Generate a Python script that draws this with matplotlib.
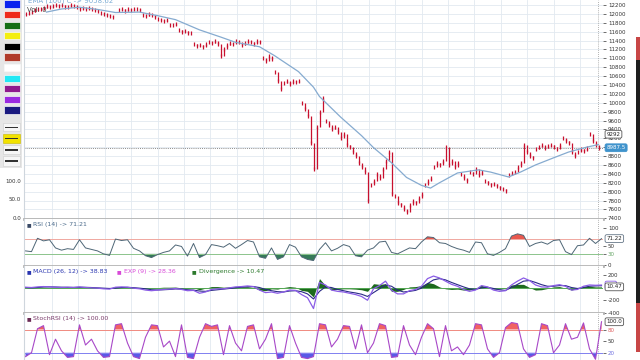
import matplotlib
matplotlib.use("Agg")
import matplotlib.pyplot as plt
import numpy as np
from matplotlib.patches import Rectangle

# price closes, one per bar (None = no bar)
closes = [12000, 12020, 12050, 12080, 12100, 12120, 12140, 12170, 12160,
          12180, 12200, 12170, 12190, 12150, 12160, 12200, 12180, 12150,
          12120, 12140, 12100, 12130, 12110, 12080, 12060,
          12020, 12000, 11980, 11960, 11940,
          None,
          12080, 12100, 12070, 12110, 12090, 12100, 12120, 12080,
          11980, 11960, 12000, 11970, 11940,
          11880, 11860, 11840, 11870,
          11760, 11740, 11780,
          11640, 11600, 11620, 11560, 11580,
          11320, 11280, 11300, 11260, 11320,
          11360, 11340, 11380, 11330,
          11050, 11200,
          11300, 11350, 11320, 11380, 11360, 11300, 11340, 11400, 11370, 11330, 11390, 11360,
          11000, 10950, 11050, 10980,
          10700, 10500, 10320,
          10450, 10480, 10420, 10500, 10460, 10480,
          10000, 9850, 9700,
          9100, 8500, 9450,
          9800, 10100,
          9600, 9500, 9400, 9450, 9350,
          9200, 9300, 9050,
          9000, 8900, 8800, 8650, 8550, 8450,
          7800,
          8150, 8250, 8400, 8300, 8500,
          8700, 8900,
          7950,
          7900, 7750, 7700, 7600, 7550,
          7700, 7800, 7750, 7850,
          7950,
          8150, 8250, 8300,
          8550, 8650, 8600, 8700,
          9000,
          8600, 8700, 8550, 8650,
          8400, 8300, 8250,
          8450, 8400, 8500, 8380, 8450,
          8250, 8200, 8150, 8180, 8120,
          8080, 8050, 8020,
          8380, 8420, 8450,
          8550, 8650,
          9050,
          8900, 8800, 8750,
          8950, 9000, 9050, 8980, 9020, 9060, 9000, 8950, 9050,
          9200, 9150, 9100,
          8900, 8800,
          8900, 8950, 8920, 8980,
          9300, 9150, 9050,
          8987.5]

# bars where a new session starts (not joined to previous close)
session_starts = [25, 31, 39, 44, 48, 51, 56, 61, 79, 83, 86, 92, 100, 115,
                  123, 133, 136, 145, 148, 153, 161, 170, 179, 184, 188]

# EMA(100) read at some bars
ema_idx = [7, 12, 18, 24, 30, 38, 44, 50, 58, 65, 70, 78, 83, 91, 96, 98, 105,
           112, 116, 122, 127, 132, 135, 138, 144, 151, 155, 161, 165, 170,
           176, 181, 187, 191]
ema_vals = [12040, 12110, 12150, 12100, 12030, 12040, 11960, 11870, 11640,
            11480, 11360, 11260, 11060, 10700, 10350, 10140, 9680, 9260, 8990,
            8650, 8320, 8140, 8080, 8200, 8420, 8490, 8440, 8330, 8440, 8600,
            8760, 8890, 9000, 9058]

# indicators, one value every second bar
rsi_vals = [38, 36, 72, 65, 68, 46, 40, 44, 42, 68, 46, 42, 38, 30, 26, 70,
            66, 68, 45, 38, 25, 20, 28, 34, 38, 54, 50, 24, 58, 20, 28, 55,
            52, 48, 58, 45, 55, 66, 62, 22, 18, 46, 15, 22, 55, 48, 22, 15,
            12, 42, 60, 38, 45, 55, 50, 25, 22, 40, 46, 62, 64, 34, 30, 38,
            46, 44, 62, 76, 74, 60, 58, 50, 44, 40, 34, 62, 60, 30, 26, 34,
            44, 78, 84, 80, 50, 58, 62, 56, 66, 68, 36, 28, 52, 54, 72, 58, 71]

macd_vals = [5, 0, 10, 15, 10, 5, 0, 5, 0, 10, 0, -5, -10, -20, -25, 5, 10, 5,
             -10, -20, -40, -50, -40, -30, -25, -15, -30, -50, -45, -90, -70,
             -30, -20, -20, -5, 10, 15, 25, 15, -40, -80, -70, -90, -70, -40,
             -45, -110, -160, -330, 80, 40, -40, -60, -70, -90, -110, -140,
             -200, -20, 30, 100, -40, -100, -100, -50, -30, 20, 140, 180, 150,
             100, 50, 20, -30, -60, -40, 30, 10, -40, -60, -50, 40, 100, 150,
             110, 40, 10, 5, 30, 45, 20, -40, -30, 20, 40, 35, 38.83]

exp_vals = [0, -5, 0, 10, 10, 8, 5, 3, 2, 4, 3, 0, -5, -10, -15, -10, 0, 3,
            -2, -10, -20, -35, -38, -35, -30, -22, -25, -35, -40, -55, -60,
            -45, -35, -25, -15, -5, 5, 12, 15, 0, -30, -50, -65, -70, -55,
            -50, -65, -100, -180, -60, 10, 0, -30, -50, -70, -85, -105, -140,
            -80, -20, 40, 20, -40, -70, -60, -45, -10, 60, 120, 140, 120, 80,
            45, 10, -20, -30, -5, 5, -15, -35, -45, 0, 50, 100, 110, 80, 45,
            20, 20, 30, 30, 0, -15, 0, 20, 25, 28.36]

stoch_vals = [10, 20, 82, 90, 15, 55, 25, 8, 10, 92, 40, 55, 25, 8, 10, 92,
              95, 45, 10, 5, 60, 92, 90, 35, 50, 10, 92, 8, 5, 60, 95, 88, 92,
              15, 90, 45, 25, 88, 92, 30, 55, 95, 5, 8, 90, 45, 8, 5, 10, 95,
              92, 35, 55, 90, 88, 30, 92, 20, 45, 95, 90, 8, 10, 90, 40, 15,
              60, 95, 82, 10, 90, 25, 35, 15, 40, 95, 92, 30, 8, 20, 85, 98,
              95, 30, 8, 15, 95, 90, 20, 40, 95, 55, 60, 97, 30, 3, 100]

price_ticks = list(range(7400, 12201, 200))

W_PX, H_PX = 640, 360
fig = plt.figure(figsize=(6.4, 3.6), dpi=100)
fig.patch.set_facecolor("white")

def panel(top, bot):
    ax = fig.add_axes([24 / W_PX, 1 - bot / H_PX, 579 / W_PX, (bot - top) / H_PX])
    ax.set_xlim(-0.5, 192.5)
    ax.set_xticks([])
    for s in ["top", "right"]:
        ax.spines[s].set_visible(False)
    ax.spines["left"].set_color("#cfd6dd")
    ax.spines["left"].set_linewidth(0.8)
    ax.spines["bottom"].set_color("#b4b4b4")
    ax.spines["bottom"].set_linewidth(2)
    for gx in np.arange(8.8, 192, 8.8):
        ax.axvline(gx, color="#e2e9f0", lw=0.6, zorder=0)
    ax.axvline(190.8, color="#9a9a9a", lw=0.6, ls=(0, (1, 1.5)), zorder=1)
    return ax

def right_ticks(ax):
    ax.yaxis.tick_right()
    ax.tick_params(axis="y", labelsize=4, length=2, width=0.5, pad=1.5,
                   colors="#333333")

def box(ax, val, text, fc="white", ec="#555555", tc="#222222"):
    ax.text(1.006, val, text, transform=ax.get_yaxis_transform(), fontsize=4,
            color=tc, va="center", ha="left", clip_on=False, zorder=10,
            bbox=dict(boxstyle="round,pad=0.25,rounding_size=0.3", fc=fc,
                      ec=ec, lw=0.6))

# ---- price panel
ax_p = panel(0, 219)

# volume scale on the left (volume is zero)
ax_v = ax_p.twinx()
ax_v.set_ylim(-2.7, 589)
ax_v.yaxis.tick_left()
ax_v.set_yticks([0, 50, 100])
ax_v.set_yticklabels(["0.0", "50.0", "100.0"])
ax_v.tick_params(axis="y", labelsize=4, length=0, pad=2, colors="#333333")
for s in ax_v.spines.values():
    s.set_visible(False)

ax_p.set_ylim(7384, 12312)
for t in price_ticks:
    ax_p.axhline(t, color="#e2e9f0", lw=0.6, zorder=0)
ax_p.set_yticks(price_ticks)
ax_p.set_yticklabels([str(t) for t in price_ticks])
right_ticks(ax_p)
ax_p.yaxis.set_label_position("right")

bar_col = "#c8102e"
prev = None
for i, c in enumerate(closes):
    if c is None:
        prev = None
        continue
    if prev is not None and i not in session_starts:
        ax_p.vlines(i, min(prev, c), max(prev, c), color=bar_col, lw=0.9, zorder=3)
    prev = c
xs = [i for i, c in enumerate(closes) if c is not None]
ys = [c for c in closes if c is not None]
ax_p.plot(xs, ys, ls="none", marker="|", ms=2.5, mew=0.9, color=bar_col, zorder=3)
ax_p.plot(ema_idx, ema_vals, color="#86abd0", lw=0.9, zorder=4)
ax_p.axhline(closes[-1], color="#8a8a8a", lw=0.7, ls=(0, (1, 1.2)), zorder=2)

box(ax_p, 9292, "9292")
box(ax_p, closes[-1], "8987.5", fc="#3f93cc", ec="#3f93cc", tc="white")

ax_p.text(0.007, 0.997, "EMA (100) C -> 9058.62", transform=ax_p.transAxes,
          fontsize=5, color="#7eaed6", va="center", ha="left")
ax_p.text(0.006, 0.955, "Vol: 0", transform=ax_p.transAxes, fontsize=5,
          color="#444444", va="center", ha="left")

ix = np.arange(len(rsi_vals)) * 2

# ---- RSI panel
ax_r = panel(219, 266)
right_ticks(ax_r)
ax_r.set_ylim(-2.7, 124)
rsi = np.array(rsi_vals, dtype=float)
ax_r.axhline(70, color="#f0a8a0", lw=0.7)
ax_r.axhline(30, color="#8cc48c", lw=0.7)
ax_r.fill_between(ix, rsi, 70, where=rsi > 70, interpolate=True, color="#e8584e", lw=0)
ax_r.fill_between(ix, rsi, 30, where=rsi < 30, interpolate=True, color="#357a58", lw=0)
ax_r.plot(ix, rsi, color="#4e6676", lw=0.7)
ax_r.set_yticks([0, 30, 50, 100])
ax_r.set_yticklabels(["0", "30", "50", "100"])
ax_r.get_yticklabels()[1].set_color("#6aa86a")
box(ax_r, 71.22, "71.22", ec="#667788")
ax_r.text(0.004, 0.88, "\u25a0", transform=ax_r.transAxes, fontsize=3.5, color="#3a4a66", va="center")
ax_r.text(0.016, 0.88, "RSI (14) -> 71.21", transform=ax_r.transAxes, fontsize=4.5, color="#4a6a8a", va="center")

# ---- MACD panel
ax_m = panel(266, 313)
right_ticks(ax_m)
ax_m.set_ylim(-385, 338)
macd = np.array(macd_vals, dtype=float)
sig = np.array(exp_vals, dtype=float)
ax_m.fill_between(ix, 0, macd - sig, color="#1d6a1d", lw=0)
ax_m.axhline(0, color="#55a855", lw=0.7)
ax_m.plot(ix, sig, color="#2a2a86", lw=0.8)
ax_m.plot(ix, macd, color="#8a5ce6", lw=0.9)
ax_m.set_yticks([-400, -200, 200])
ax_m.set_yticklabels(["-400", "-200", "200"])
box(ax_m, 38.83, "     ", ec="#8a5ce6")
box(ax_m, 10.47, "10.47")
legend_m = [("MACD (26, 12) -> 38.83", "#2a36b0", 0.004),
            ("EXP (9) -> 28.36", "#d84ad8", 0.16),
            ("Divergence -> 10.47", "#2d7a2d", 0.29)]
for txt, col, x0 in legend_m:
    ax_m.text(x0, 0.88, "\u25a0", transform=ax_m.transAxes, fontsize=3.5, color=col, va="center")
    ax_m.text(x0 + 0.012, 0.88, txt, transform=ax_m.transAxes, fontsize=4.5, color=col, va="center")

# ---- StochRSI panel
ax_s = panel(313, 360)
right_ticks(ax_s)
ax_s.spines["bottom"].set_visible(False)
ax_s.set_ylim(1.3, 122.6)
st = np.array(stoch_vals, dtype=float)
ax_s.axhline(80, color="#f08a80", lw=0.7)
ax_s.axhline(20, color="#8080f0", lw=0.7)
ax_s.fill_between(ix, st, 80, where=st > 80, interpolate=True, color="#f06262", lw=0)
ax_s.fill_between(ix, st, 20, where=st < 20, interpolate=True, color="#5a5ae6", lw=0)
ax_s.plot(ix, st, color="#a848c8", lw=0.8)
ax_s.set_yticks([20, 50, 80])
ax_s.set_yticklabels(["20", "50", "80"])
ax_s.get_yticklabels()[0].set_color("#7070e0")
ax_s.get_yticklabels()[2].set_color("#e06060")
box(ax_s, 100, "100.0")
ax_s.text(0.004, 0.88, "\u25a0", transform=ax_s.transAxes, fontsize=3.5, color="#6a2a55", va="center")
ax_s.text(0.016, 0.88, "StochRSI (14) -> 100.00", transform=ax_s.transAxes, fontsize=4.5, color="#7a3a6a", va="center")

# ---- toolbar on the left and scroll strip on the right
def px_rect(x0, y0, x1, y1, fc, ec="none", lw=0):
    fig.patches.append(Rectangle((x0 / W_PX, 1 - y1 / H_PX), (x1 - x0) / W_PX,
                                 (y1 - y0) / H_PX, transform=fig.transFigure,
                                 fc=fc, ec=ec, lw=lw, zorder=5))

px_rect(0, 0, 22, 168, "#e6e6e6")
swatches = ["#0a22ee", "#ee2a1a", "#136e13", "#f4ee10", "#000000", "#b03a2a",
            "#ffffff", "#22e8f4", "#8e1a8e", "#9a2ae0", "#1a1a80"]
for n, col in enumerate(swatches):
    y0 = 0 + n * 10.6
    px_rect(4, y0 + 0.5, 20, y0 + 7.5, col, ec="#f8f8f8", lw=0.5)
px_rect(3, 123, 20, 131, "#f6f6f6", ec="#cccccc", lw=0.4)
px_rect(5, 127, 18, 127.6, "#333333")
px_rect(3, 134, 20, 143, "#f2e200", ec="#c8b800", lw=0.4)
px_rect(5, 137.8, 18, 139.2, "#333333")
px_rect(3, 145, 20, 154, "#f6f6f6", ec="#cccccc", lw=0.4)
px_rect(5, 148.6, 18, 150.6, "#333333")
px_rect(3, 156, 20, 166, "#f6f6f6", ec="#cccccc", lw=0.4)
px_rect(5, 159.6, 18, 162.2, "#333333")

px_rect(636, 37, 640, 60, "#c84646")
px_rect(636, 60, 640, 303, "#1e1e1e")
px_rect(636, 303, 640, 352, "#c84646")

fig.savefig("out.png", dpi=100)
